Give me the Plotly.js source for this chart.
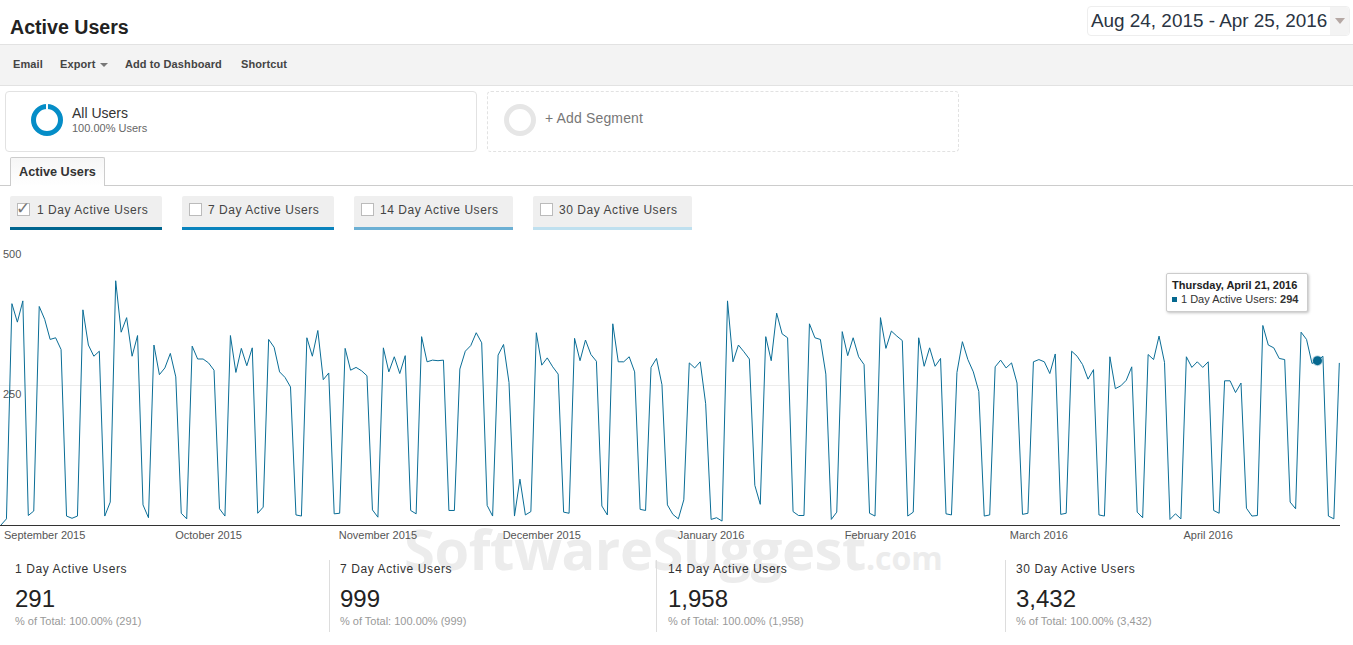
<!DOCTYPE html>
<html><head><meta charset="utf-8">
<script src="https://cdn.plot.ly/plotly-3.0.1.min.js"></script>
<style>
html,body{margin:0;padding:0;background:#fff;width:1353px;height:645px;overflow:hidden;font-family:"Liberation Sans",Arial,sans-serif}
#chart{position:absolute;left:0;top:0;width:1353px;height:645px;z-index:1}
#ui{position:absolute;left:0;top:0;width:1353px;height:645px;z-index:2;pointer-events:none}
.b{position:absolute;box-sizing:border-box}
.t{position:absolute;white-space:nowrap;line-height:20px;height:20px}
#wm{position:absolute;left:404px;top:513px;z-index:0;white-space:nowrap;color:#ececec;font:bold 56px "Open Sans",sans-serif;letter-spacing:-.4px;line-height:70px}
#wm span{font-size:32px;letter-spacing:0}
</style></head><body>
<div id="wm">SoftwareSuggest<span>.com</span></div>
<div id="chart"></div>
<div id="ui"></div>
<script>
const startDate = '2015-08-24';
const oneDayUsers = [
0,11,396,363,401,17,25,391,368,332,335,314,16,12,16,385,322,302,311,16,41,437,345,371,302,339,36,13,
322,269,281,307,265,21,11,320,297,297,290,277,29,16,339,273,316,285,317,21,32,332,318,274,264,247,18,16,
335,302,348,260,272,20,21,316,277,282,276,267,27,14,317,274,301,271,303,26,20,337,292,295,294,295,26,26,
279,311,321,344,326,35,16,304,323,255,16,82,18,24,344,286,299,283,270,23,21,334,294,331,305,293,34,18,
360,292,292,301,274,28,26,282,298,251,36,19,11,45,290,281,292,217,10,13,7,401,292,322,310,297,71,37,
337,294,379,342,335,24,17,17,360,335,332,270,10,23,346,303,335,301,287,21,16,371,316,347,338,330,16,23,
335,284,317,284,298,20,18,273,328,296,274,239,16,18,283,295,281,290,254,19,21,292,296,292,271,306,19,21,
311,302,287,261,278,18,16,301,244,249,259,283,23,13,305,296,338,291,10,20,11,301,282,292,282,292,26,21,
258,258,237,254,30,16,17,357,322,317,298,296,41,29,345,332,289,294,302,16,11,290];
const highlightDate = '2016-04-21';
const highlightValue = 294;
const xTickDates = ['2015-09-01','2015-10-01','2015-11-01','2015-12-01','2016-01-01','2016-02-01','2016-03-01','2016-04-01'];
const xTickLabels = ['September 2015','October 2015','November 2015','December 2015','January 2016','February 2016','March 2016','April 2016'];
const yTicks = [250,500];
const metricNames = ['1 Day Active Users','7 Day Active Users','14 Day Active Users','30 Day Active Users'];
const metricValues = ['291','999','1,958','3,432'];

const dates = oneDayUsers.map((_,i)=>{const d=new Date(startDate+'T00:00:00Z');d.setUTCDate(d.getUTCDate()+i);return d.toISOString().slice(0,10)});
const FONT='"Liberation Sans",Arial,sans-serif';
const LINE='#0a6d96';
Plotly.newPlot('chart',[
 {x:dates,y:oneDayUsers,type:'scatter',mode:'lines',line:{color:LINE,width:1},hoverinfo:'skip',showlegend:false,cliponaxis:false},
 {x:[highlightDate],y:[highlightValue],type:'scatter',mode:'markers',marker:{color:'#05688f',size:9,line:{color:'rgba(5,104,143,.25)',width:2}},hoverinfo:'skip',showlegend:false}
],{
 width:1353,height:645,
 margin:{l:0,r:13,t:245.44,b:119.7,pad:0},
 paper_bgcolor:'rgba(0,0,0,0)',plot_bgcolor:'rgba(0,0,0,0)',
 showlegend:false,
 font:{family:FONT,size:11,color:'#555'},
 xaxis:{type:'date',range:['2015-08-23 19:40','2016-04-25 03:00'],tickmode:'array',tickvals:xTickDates,ticktext:xTickLabels,ticks:'',showgrid:false,zeroline:false,
   showline:true,linecolor:'#333',linewidth:1,tickfont:{family:FONT,size:11,color:'#555'},ticklabelstandoff:0,fixedrange:true},
 yaxis:{range:[0,501],tickmode:'array',tickvals:yTicks,ticks:'',showgrid:true,gridcolor:'#ececec',gridwidth:1,zeroline:false,showline:false,
   ticklabelposition:'inside',ticklabelshift:9,tickfont:{family:FONT,size:11,color:'#555'},fixedrange:true}
},{displayModeBar:false,staticPlot:true}).then(buildUI);

function buildUI(){
 const ui=document.getElementById('ui');
 function box(x,y,w,h,css){const e=document.createElement('div');e.className='b';e.style.cssText=`left:${x}px;top:${y}px;width:${w}px;height:${h}px;`+(css||'');ui.appendChild(e);return e}
 function txt(x,cy,s,css){const e=document.createElement('div');e.className='t';e.style.cssText=`left:${x}px;top:${cy-10}px;`+(css||'');e.innerHTML=s;ui.appendChild(e);return e}
 // header
 txt(10,27,'Active Users','font-weight:bold;font-size:19.6px;color:#222');
 box(1087,6,263,30,'border:1px solid #eee;border-radius:4px;background:#fff');
 box(1330,7,19,28,'background:#f3f3f3;border-radius:0 4px 4px 0');
 box(1335,18,0,0,'border-left:5.5px solid transparent;border-right:5.5px solid transparent;border-top:6px solid #b5a8a4');
 txt(1091,21,'Aug 24, 2015 - Apr 25, 2016','font-size:18.9px;color:#2a3442');
 // toolbar
 box(0,44,1353,42,'background:#f3f3f3;border-top:1px solid #e2e2e2;border-bottom:1px solid #e2e2e2');
 const tb='font-weight:bold;font-size:11px;color:#444;letter-spacing:.1px';
 txt(13,64,'Email',tb);txt(60,64,'Export',tb);txt(125,64,'Add to Dashboard',tb);txt(241,64,'Shortcut',tb);
 box(100,63,0,0,'border-left:4px solid transparent;border-right:4px solid transparent;border-top:4px solid #777');
 // segments
 box(5,91,472,61,'border:1px solid #e2e2e2;border-radius:4px;background:#fff');
 box(31,104,32,32,'border:5px solid #058dc7;border-radius:50%');
 box(45.5,103,2,6,'background:#fff');
 txt(72,113,'All Users','font-size:14px;color:#333');
 txt(72,128,'100.00% Users','font-size:11px;color:#666');
 box(487,91,472,61,'border:1px dashed #e2e2e2;border-radius:4px;background:#fff');
 box(504,104,32,32,'border:5px solid #e6e6e6;border-radius:50%');
 txt(545,118,'+ Add Segment','font-size:14px;color:#777;letter-spacing:.15px');
 // tab
 box(0,185,1353,1,'background:#ccc');
 box(10,157,95,29,'border:1px solid #ccc;border-bottom:none;border-radius:2px 2px 0 0;background:linear-gradient(#f6f6f6,#fff)');
 txt(19,171.5,'Active Users','font-weight:bold;font-size:12.7px;color:#333');
 // metric buttons
 const btnX=[10,182,354,533],btnW=[152,152,159,159],btnC=['#00658f','#0a83bd','#6cb0d4','#bfe0ef'];
 metricNames.forEach((n,i)=>{
  box(btnX[i],196,btnW[i],34,`background:#efefef;border-bottom:3px solid ${btnC[i]};border-radius:2px 2px 0 0`);
  box(btnX[i]+7,203,13,13,'background:#fff;border:1px solid #bbb');
  txt(btnX[i]+27-(i?1:0),209.5,n,'font-size:12px;letter-spacing:.55px;color:#444');
 });
 txt(16,208,'&#10003;','font-size:17px;font-weight:bold;color:#777;font-family:DejaVu Sans');
 // tooltip
 box(1166,273,142,39,'background:#fff;border:1px solid #ccc;border-radius:2px;box-shadow:1px 1px 3px rgba(0,0,0,.25)');
 txt(1172,285,'Thursday, April 21, 2016','font-weight:bold;font-size:11px;color:#222');
 box(1172,297,5,5,'background:#05688f');
 txt(1181,299,metricNames[0]+': <b>'+highlightValue+'</b>','font-size:11px;color:#333');
 // scorecards
 const cardX=[15,340,668,1016],divX=[329,656,1005];
 divX.forEach(x=>box(x,560,1,72,'background:#ddd'));
 metricNames.forEach((n,i)=>{
  txt(cardX[i],568.5,n,'font-size:12px;letter-spacing:.6px;color:#333');
  txt(cardX[i],599,metricValues[i],'font-size:24px;color:#222');
  txt(cardX[i],621,'% of Total: 100.00% ('+metricValues[i]+')','font-size:11px;color:#999');
 });
}
</script>
</body></html>
